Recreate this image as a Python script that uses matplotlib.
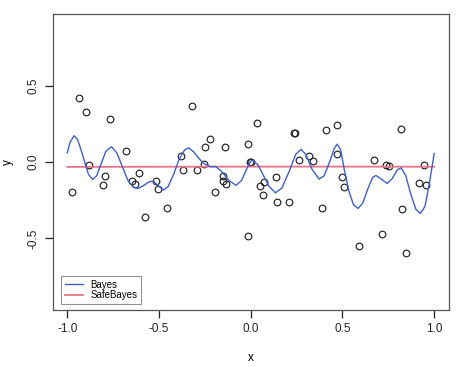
from matplotlib import pyplot as plt
import numpy as np

plt.rcParams['font.family'] = ['Liberation Sans', 'DejaVu Sans']

pts_x = [-0.938, -0.897, -0.768, -0.678, -0.884, -0.794, -0.607, -0.805, -0.972, -0.647,
         -0.630, -0.574, -0.320, -0.221, -0.252, -0.140, -0.381, -0.371, -0.294, -0.255,
         -0.515, -0.507, -0.152, -0.152, -0.136, -0.193, -0.456, -0.013, -0.015, -0.002,
         0.001, 0.035, 0.236, 0.239, 0.410, 0.471, 0.318, 0.340, 0.261, 0.471,
         0.135, 0.074, 0.052, 0.066, 0.496, 0.506, 0.142, 0.208, 0.386, 0.819,
         0.671, 0.736, 0.756, 0.942, 0.918, 0.956, 0.822, 0.715, 0.590, 0.848]
pts_y = [0.419, 0.329, 0.281, 0.071, -0.022, -0.092, -0.075, -0.153, -0.197, -0.125,
         -0.147, -0.361, 0.364, 0.148, 0.100, 0.100, 0.041, -0.053, -0.053, -0.014,
         -0.123, -0.178, -0.090, -0.123, -0.145, -0.199, -0.298, 0.119, -0.484, 0.001,
         0.003, 0.253, 0.191, 0.190, 0.207, 0.242, 0.039, 0.008, 0.012, 0.052,
         -0.097, -0.130, -0.158, -0.217, -0.097, -0.166, -0.265, -0.265, -0.300, 0.214,
         0.012, -0.018, -0.027, -0.018, -0.136, -0.153, -0.309, -0.474, -0.551, -0.595]

# Bayes posterior mean curve
bayes_x = [-1.00, -0.985, -0.963, -0.945, -0.925, -0.905, -0.885, -0.862, -0.84, -0.815,
           -0.79, -0.759, -0.73, -0.70, -0.67, -0.64, -0.614, -0.585, -0.555, -0.531,
           -0.505, -0.476, -0.45, -0.42, -0.39, -0.36, -0.338, -0.31, -0.28, -0.255,
           -0.22, -0.19, -0.16, -0.12, -0.08, -0.05, -0.02, 0.00, 0.011, 0.04,
           0.07, 0.10, 0.135, 0.17, 0.21, 0.245, 0.274, 0.30, 0.335, 0.373,
           0.40, 0.43, 0.455, 0.471, 0.49, 0.51, 0.535, 0.56, 0.585, 0.61,
           0.64, 0.665, 0.682, 0.71, 0.743, 0.77, 0.80, 0.820, 0.845, 0.87,
           0.90, 0.925, 0.95, 0.975, 1.00]
bayes_y = [0.06, 0.13, 0.172, 0.15, 0.08, 0.00, -0.08, -0.114, -0.09, -0.01,
           0.07, 0.100, 0.06, -0.03, -0.12, -0.165, -0.173, -0.155, -0.13, -0.125,
           -0.155, -0.184, -0.16, -0.08, 0.02, 0.08, 0.093, 0.065, 0.02, -0.01,
           -0.03, -0.03, -0.06, -0.12, -0.153, -0.12, -0.04, 0.005, 0.012, -0.02,
           -0.09, -0.16, -0.202, -0.17, -0.06, 0.05, 0.083, 0.05, -0.05, -0.112,
           -0.09, 0.00, 0.09, 0.117, 0.08, -0.05, -0.19, -0.28, -0.304, -0.27,
           -0.17, -0.10, -0.088, -0.11, -0.140, -0.11, -0.05, -0.038, -0.09, -0.20,
           -0.31, -0.337, -0.29, -0.13, 0.056]

# SafeBayes curve (almost flat)
safe_x = [-1.0, -0.5, 0.0, 0.5, 1.0]
safe_y = [-0.032, -0.031, -0.030, -0.030, -0.031]

fig = plt.figure(figsize=(4.74, 3.67), dpi=100)
ax = fig.add_axes([0.111, 0.155, 0.836, 0.807])

ax.plot(pts_x, pts_y, 'o', mfc='none', mec='#222222', ms=4.8, mew=0.85)
ax.plot(safe_x, safe_y, color='#ee7388', lw=1.3, label='SafeBayes')
ax.plot(bayes_x, bayes_y, color='#3b5fd6', lw=1.0, label='Bayes')

ax.set_xlim(-1.08, 1.08)
ax.set_ylim(-0.97, 0.97)
ax.set_xticks([-1.0, -0.5, 0.0, 0.5, 1.0])
ax.set_yticks([-0.5, 0.0, 0.5])
ax.set_xticklabels(['-1.0', '-0.5', '0.0', '0.5', '1.0'])
ax.set_yticklabels(['-0.5', '0.0', '0.5'], rotation=90, va='center')
ax.tick_params(direction='out', length=6, width=0.9, labelsize=8.5, colors='#222222')
for s in ax.spines.values():
    s.set_color('#555555')
    s.set_linewidth(0.9)
ax.set_xlabel('x', fontsize=8.5, labelpad=12)
ax.set_ylabel('y', fontsize=8.5, labelpad=10)

h, l = ax.get_legend_handles_labels()
leg = ax.legend(h[::-1], l[::-1], loc='lower left', fontsize=7, frameon=True, fancybox=False,
                edgecolor='#777777', handlelength=1.8, borderpad=0.4, labelspacing=0.05,
                borderaxespad=0, bbox_to_anchor=(0.022, 0.02))
leg.get_frame().set_linewidth(0.8)

fig.savefig('out.png', dpi=100)
